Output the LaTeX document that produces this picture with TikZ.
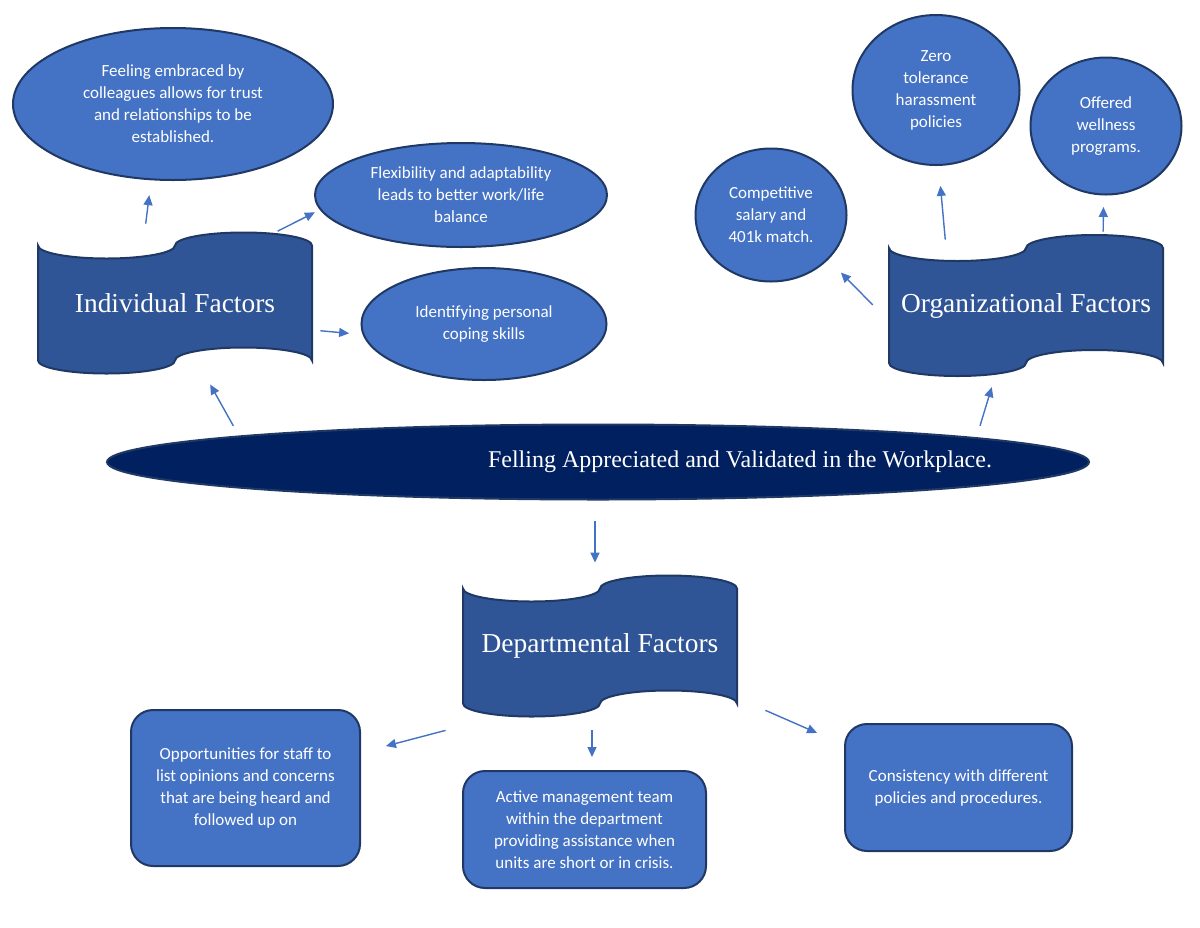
\documentclass[tikz,border=0pt]{standalone}
\usepackage{fontspec}
\usepackage{xcolor}
\usepackage{tikz}
\usetikzlibrary{positioning,arrows.meta,shapes.geometric}
\setmainfont{Carlito}
\newfontfamily\headfont{Liberation Serif}
\definecolor{wpBlue}{HTML}{4472C4}
\definecolor{wpMid}{HTML}{2F5597}
\definecolor{wpNavy}{HTML}{002060}
\definecolor{wpLine}{HTML}{1F3864}
% wave banner drawn round a centre given in picture units
\newcommand{\tapeat}[2]{%
  \filldraw[fill=wpMid, draw=wpLine, line width=1pt]
    ([shift={(-68.5pt,28.75pt)}]#1,#2)
    arc[start angle=180, end angle=360, x radius=34.25pt, y radius=6.5pt]
    arc[start angle=180, end angle=0, x radius=34.25pt, y radius=6.5pt]
    -- ++(0,-57.5pt)
    arc[start angle=0, end angle=180, x radius=34.25pt, y radius=6.5pt]
    arc[start angle=360, end angle=180, x radius=34.25pt, y radius=6.5pt]
    -- cycle;}

\begin{document}
\begin{tikzpicture}[x=0.5pt, y=-0.5pt,
    bubble/.style={ellipse, draw=wpLine, line width=1pt, fill=wpBlue,
      text=white, align=center, inner sep=0pt, font=\fontsize{8.5}{11}\selectfont},
    card/.style={rectangle, rounded corners=11pt, draw=wpLine, line width=1pt,
      fill=wpBlue, text=white, align=center, inner sep=0pt,
      font=\fontsize{8.5}{11}\selectfont},
    tapetext/.style={minimum width=137pt, minimum height=57.5pt, inner sep=0pt,
      text=white, font=\headfont\fontsize{13.7}{16}\selectfont},
    link/.style={draw=wpBlue, line width=0.7pt,
      -{Triangle[length=5pt,width=4.5pt]}}]
  \useasboundingbox (0,0) rectangle (1200,927);

  % centre
  \node[ellipse, draw=wpLine, line width=1pt, fill=wpNavy, text=white,
    minimum width=491pt, minimum height=37.5pt, inner sep=0pt,
    font=\headfont\fontsize{12}{14}\selectfont] (goal) at (598,462)
    {\makebox[0pt][l]{\hspace{-55pt}Felling Appreciated and Validated in the Workplace.}};

  % banners
  \tapeat{175}{303}
  \node[tapetext] (indiv) at (175,303) {Individual Factors};
  \tapeat{1026}{305.5}
  \node[tapetext] (org) at (1026,305.5) {Organizational Factors};
  \tapeat{600}{646}
  \node[tapetext] (dept) at (600,646) {Departmental Factors};

  % individual
  \node[bubble, minimum width=160pt, minimum height=76pt] (embrace) at (173,104)
    {Feeling embraced by\\colleagues allows for trust\\and relationships to be\\established.};
  \node[bubble, minimum width=146pt, minimum height=52pt] (flex) at (461,195)
    {Flexibility and adaptability\\leads to better work/life\\balance};
  \node[bubble, minimum width=122.5pt, minimum height=56pt] (coping) at (484,324)
    {Identifying personal\\coping skills};

  % organizational
  \node[bubble, minimum width=75.5pt, minimum height=66.5pt] (salary) at (771,215)
    {Competitive\\salary and\\401k match.};
  \node[bubble, minimum width=83.5pt, minimum height=75pt] (policy) at (936,90)
    {Zero\\tolerance\\harassment\\policies};
  \node[bubble, minimum width=75.5pt, minimum height=68.5pt] (wellness) at (1106,126)
    {Offered\\wellness\\programs.};

  % departmental
  \node[card, minimum width=114.5pt, minimum height=78pt] (voice) at (245.5,788)
    {Opportunities for staff to\\list opinions and concerns\\that are being heard and\\followed up on};
  \node[card, minimum width=121.5pt, minimum height=58.5pt] (mgmt) at (584.5,829.5)
    {Active management team\\within the department\\providing assistance when\\units are short or in crisis.};
  \node[card, minimum width=113.5pt, minimum height=63.5pt] (consist) at (958.5,787.5)
    {Consistency with different\\policies and procedures.};

  % connectors
  \draw[link, shorten <=10.8pt, shorten >=7.5pt] ([xshift=-16pt]indiv.north) -- (embrace.-106);
  \draw[link, shorten <=15.5pt, shorten >=2.8pt] ([xshift=37.5pt]indiv.north) -- (flex.186);
  \draw[link, shorten <=4pt, shorten >=6.8pt] ([yshift=-13.5pt]indiv.east) -- (coping.185);
  \draw[link, shorten <=6pt, shorten >=13.5pt] ([xshift=4pt]goal.176) -- ([xshift=11pt]indiv.south);
  \draw[link, shorten <=5.5pt, shorten >=12.4pt] ([xshift=6pt]goal.4) -- ([xshift=-13.5pt]org.south);
  \draw[link, shorten <=11.3pt, shorten >=9pt] ([yshift=-7.75pt]org.west) -- (salary.-38);
  \draw[link, shorten <=4pt, shorten >=10pt] ([xshift=-40pt]org.north) -- (policy.-88);
  \draw[link, shorten <=8pt, shorten >=5.75pt] ([xshift=38.5pt]org.north) -- (wellness.-92);
  \draw[link, shorten <=10.25pt, shorten >=12.75pt] ([xshift=-1.5pt]goal.south) -- ([xshift=-2.5pt]dept.north);
  \draw[link, shorten <=8.8pt, shorten >=12.9pt] ([yshift=-11pt]dept.south west) -- ([yshift=17.7pt]voice.east);
  \draw[link, shorten <=13.25pt, shorten >=6.5pt] ([xshift=-4pt]dept.south) -- ([xshift=3.75pt]mgmt.north);
  \draw[link, shorten <=15.3pt, shorten >=14.7pt] ([yshift=2.9pt]dept.south east) -- ([yshift=21.4pt]consist.west);
\end{tikzpicture}
\end{document}
